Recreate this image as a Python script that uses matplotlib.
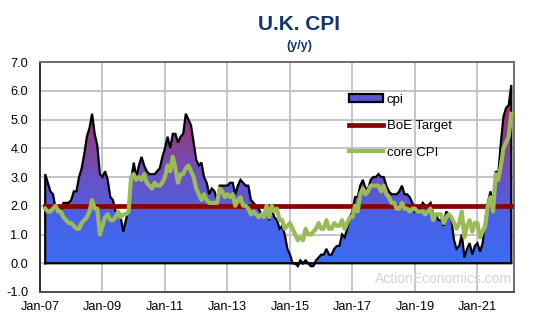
import numpy as np
import matplotlib
matplotlib.use("Agg")
import matplotlib.pyplot as plt
from matplotlib.colors import LinearSegmentedColormap
from matplotlib.patches import Patch
from matplotlib.lines import Line2D
from matplotlib.path import Path

plt.rcParams['font.family'] = ['Liberation Sans', 'DejaVu Sans']

# monthly y/y, Mar-2007 .. Feb-2022
start_year = 2007
start_month = 3

cpi = [
    3.1, 2.8, 2.5, 2.4, 1.9, 1.8, 1.8, 2.1, 2.1, 2.1,                 # 2007
    2.2, 2.5, 2.5, 3.0, 3.3, 3.8, 4.4, 4.7, 5.2, 4.5, 4.1, 3.1,       # 2008
    3.0, 3.2, 2.9, 2.3, 2.2, 1.8, 1.8, 1.6, 1.1, 1.5, 1.9, 2.9,       # 2009
    3.5, 3.0, 3.4, 3.7, 3.4, 3.2, 3.1, 3.1, 3.1, 3.2, 3.3, 3.7,       # 2010
    4.0, 4.4, 4.0, 4.5, 4.5, 4.2, 4.4, 4.5, 5.2, 5.0, 4.8, 4.2,       # 2011
    3.6, 3.4, 3.5, 3.0, 2.8, 2.4, 2.6, 2.5, 2.2, 2.7, 2.7, 2.7,       # 2012
    2.7, 2.8, 2.8, 2.4, 2.7, 2.9, 2.8, 2.7, 2.7, 2.2, 2.1, 2.0,       # 2013
    1.9, 1.7, 1.6, 1.8, 1.5, 1.9, 1.6, 1.5, 1.2, 1.3, 1.0, 0.5,       # 2014
    0.3, 0.0, 0.0, -0.1, 0.1, 0.0, 0.1, 0.0, -0.1, -0.1, 0.1, 0.2,    # 2015
    0.3, 0.3, 0.5, 0.3, 0.3, 0.5, 0.6, 0.6, 1.0, 0.9, 1.2, 1.6,       # 2016
    1.8, 2.3, 2.3, 2.7, 2.9, 2.6, 2.6, 2.9, 3.0, 3.0, 3.1, 3.0,       # 2017
    3.0, 2.7, 2.5, 2.4, 2.4, 2.4, 2.5, 2.7, 2.4, 2.4, 2.3, 2.1,       # 2018
    1.8, 1.9, 1.9, 2.1, 2.0, 2.0, 2.1, 1.7, 1.7, 1.5, 1.5, 1.3,       # 2019
    1.8, 1.7, 1.5, 0.8, 0.5, 0.6, 1.0, 0.2, 0.5, 0.7, 0.3, 0.6,       # 2020
    0.7, 0.4, 0.7, 1.5, 2.1, 2.5, 2.0, 3.2, 3.1, 4.2, 5.1, 5.4,       # 2021
    5.5, 6.2,                                                         # 2022
]

core_cpi = [
    1.9, 1.8, 1.8, 1.9, 2.0, 1.8, 1.8, 1.6, 1.5, 1.4,                 # 2007
    1.4, 1.3, 1.2, 1.2, 1.4, 1.5, 1.6, 1.8, 2.2, 1.9, 1.9, 1.0,       # 2008
    1.3, 1.6, 1.7, 1.5, 1.5, 1.6, 1.8, 1.6, 1.7, 1.7, 1.8, 3.0,       # 2009
    3.1, 2.9, 3.0, 2.9, 3.1, 2.8, 2.7, 2.6, 2.8, 2.7, 2.7, 2.8,       # 2010
    3.0, 3.4, 3.2, 3.7, 3.3, 2.8, 3.1, 3.1, 3.3, 3.4, 3.2, 3.0,       # 2011
    2.6, 2.4, 2.2, 2.4, 2.2, 2.1, 2.1, 2.1, 2.1, 2.6, 2.5, 2.3,       # 2012
    2.4, 2.3, 2.4, 2.0, 2.2, 2.3, 2.0, 2.0, 1.9, 1.7, 1.8, 1.7,       # 2013
    1.6, 1.7, 1.6, 2.0, 1.6, 2.0, 1.8, 1.9, 1.5, 1.5, 1.2, 1.3,       # 2014
    1.4, 1.2, 1.0, 0.8, 0.9, 0.8, 1.2, 1.0, 1.0, 1.1, 1.2, 1.4,       # 2015
    1.2, 1.2, 1.5, 1.2, 1.2, 1.4, 1.3, 1.3, 1.5, 1.2, 1.4, 1.6,       # 2016
    1.6, 2.0, 1.8, 2.4, 2.6, 2.4, 2.5, 2.7, 2.7, 2.7, 2.7, 2.5,       # 2017
    2.7, 2.4, 2.3, 2.1, 2.1, 1.9, 1.9, 2.1, 1.9, 1.9, 1.8, 1.9,       # 2018
    1.9, 1.8, 1.8, 1.8, 1.7, 1.8, 1.9, 1.5, 1.7, 1.7, 1.7, 1.4,       # 2019
    1.6, 1.7, 1.6, 1.4, 1.2, 1.4, 1.8, 0.9, 1.3, 1.5, 1.1, 1.4,       # 2020
    1.4, 0.9, 1.1, 1.3, 2.0, 2.3, 1.8, 3.1, 2.9, 3.4, 4.0, 4.2,       # 2021
    4.4, 5.2,                                                         # 2022
]

boe_target = 2.0

y_ticks = [-1.0, 0.0, 1.0, 2.0, 3.0, 4.0, 5.0, 6.0, 7.0]
x_tick_years = [2007, 2009, 2011, 2013, 2015, 2017, 2019, 2021]
x_tick_labels = ['Jan-07', 'Jan-09', 'Jan-11', 'Jan-13', 'Jan-15', 'Jan-17', 'Jan-19', 'Jan-21']

n = len(cpi)
x = start_year + (start_month - 1) / 12.0 + np.arange(n) / 12.0
cpi = np.array(cpi)
core_cpi = np.array(core_cpi)

fig = plt.figure(figsize=(5.45, 3.32), dpi=100)
ax = fig.add_axes([40 / 545, 40 / 332, 474 / 545, 230 / 332])

xmin, xmax = 2007.0, 2022.17
ymin, ymax = -1.0, 7.0

# gradient fill under the cpi line
grad_cmap = LinearSegmentedColormap.from_list(
    'cpi_grad',
    [(0.0, '#3a6cf6'), (0.25, '#4862e6'), (0.48, '#6a52c6'),
     (0.72, '#8a3e8a'), (1.0, '#b22848')])
top = cpi.max()
verts = [(x[0], 0.0)] + list(zip(x, cpi)) + [(x[-1], 0.0), (x[0], 0.0)]
clip = Path(verts, closed=True)
grad = np.linspace(0, 1, 256).reshape(-1, 1)
img = ax.imshow(grad, extent=[x[0], x[-1], cpi.min(), top], origin='lower',
                aspect='auto', cmap=grad_cmap, zorder=1, interpolation='bilinear')
img.set_clip_path(clip, transform=ax.transData)

xs = [v[0] for v in verts]
ys = [v[1] for v in verts]
ax.plot(xs, ys, color='black', lw=1.6, zorder=2, solid_joinstyle='miter')

ax.plot(x, np.full(n, boe_target), color='#8b0000', lw=3.4, zorder=3)
ax.plot(x, core_cpi, color='#9bbb59', lw=3.0, zorder=4)

ax.set_xlim(xmin, xmax)
ax.set_ylim(ymin, ymax)
ax.set_yticks(y_ticks)
ax.set_yticklabels([f'{v:.1f}' for v in y_ticks])
ax.set_xticks(x_tick_years)
ax.set_xticklabels(x_tick_labels)
ax.tick_params(axis='y', length=0, pad=8.5, labelsize=9.2)
ax.tick_params(axis='x', length=0, pad=6.5, labelsize=9.2)
ax.grid(True, color='#c0c0c0', lw=1.3)
ax.set_axisbelow(True)
for side in ['top', 'right', 'left', 'bottom']:
    ax.spines[side].set_color('#6e6e6e')
    ax.spines[side].set_linewidth(1.4)
ax.spines['left'].set_color('#303030')
ax.spines['bottom'].set_color('#505050')

handles = [
    Patch(facecolor='#5e56d0', edgecolor='black', linewidth=1.6),
    Line2D([], [], color='#8b0000', lw=3.4),
    Line2D([], [], color='#9bbb59', lw=3.0),
]
fig.legend(handles, ['cpi', 'BoE Target', 'core CPI'],
           loc='upper left', bbox_to_anchor=(349 / 545, 1 - 93.5 / 332),
           frameon=False, fontsize=9.5, handlelength=2.6, handleheight=0.6,
           handletextpad=0.25, labelspacing=1.1, borderpad=0, borderaxespad=0)

ax.text(0.995, 0.025, 'ActionEconomics.com', transform=ax.transAxes,
        ha='right', va='bottom', fontsize=10, color='#d4d4d4', zorder=5)

fig.text(299 / 545, 1 - 29.5 / 332, 'U.K. CPI', ha='center', va='baseline',
         fontsize=15, fontweight='bold', color='#10386a')
fig.text(299 / 545, 1 - 48.5 / 332, '(y/y)', ha='center', va='baseline',
         fontsize=9, fontweight='bold', color='#10386a')

fig.savefig('out.png', dpi=100)
